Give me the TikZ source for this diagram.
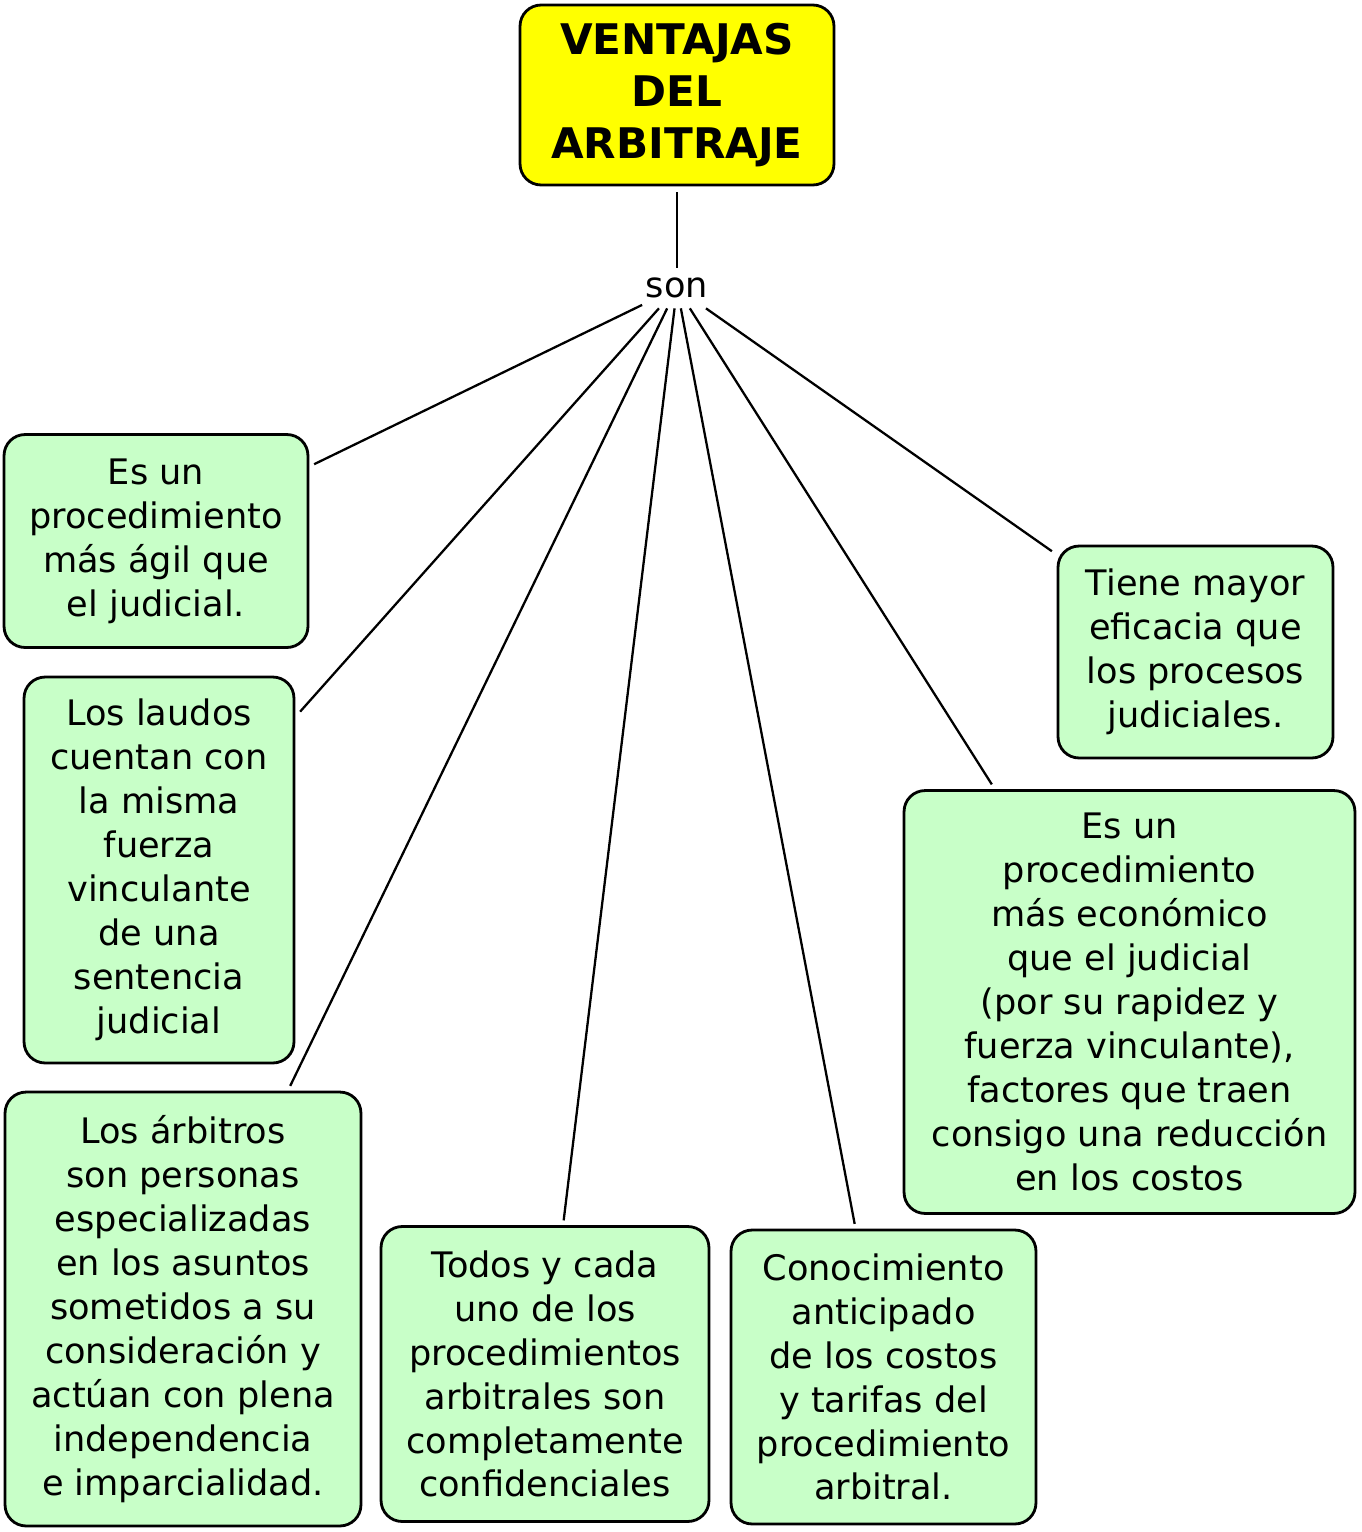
\documentclass[tikz,border=0pt]{standalone}
\usepackage{fontspec}
\setmainfont{DejaVu Sans}
\usepackage{xcolor}
\definecolor{mapgreen}{RGB}{200,255,200}
\definecolor{mapyellow}{RGB}{255,255,0}
\usetikzlibrary{positioning}

\begin{document}
\begin{tikzpicture}[x=0.02cm, y=-0.02cm,
    concept/.style={draw, line width=1.6pt, rounded corners=12pt, fill=mapgreen, align=center,
        font=\fontsize{20}{25}\selectfont, outer sep=3.5pt},
    link/.style={line width=1.3pt}]
    \useasboundingbox (0,0) rectangle (1362,1532);

    % Title
    \node[draw, line width=1.6pt, rounded corners=12pt, fill=mapyellow, align=center,
        font=\bfseries\fontsize{24}{29.5}\selectfont, minimum width=6.28cm, minimum height=3.6cm,
        outer sep=4pt] (title) at (677,95) {VENTAJAS\\DEL\\ARBITRAJE};

    % Linking phrase
    \node[font=\fontsize{20}{25}\selectfont, minimum height=0.8cm, inner sep=2pt] (son) at (677,288) {son};

    % Concepts
    \node[concept, minimum width=6.08cm, minimum height=4.26cm] (agil) at (156,541)
        {Es un\\procedimiento\\más ágil que\\el judicial.};
    \node[concept, minimum width=5.4cm, minimum height=7.72cm] (laudos) at (159,870)
        {Los laudos\\cuentan con\\la misma\\fuerza\\vinculante\\de una\\sentencia\\judicial};
    \node[concept, minimum width=7.12cm, minimum height=8.68cm] (arbitros) at (183,1309)
        {Los árbitros\\son personas\\especializadas\\en los asuntos\\sometidos a su\\consideración y\\actúan con plena\\independencia\\e imparcialidad.};
    \node[concept, minimum width=6.56cm, minimum height=5.9cm] (confid) at (545,1374)
        {Todos y cada\\uno de los\\procedimientos\\arbitrales son\\completamente\\confidenciales};
    \node[concept, minimum width=6.1cm, minimum height=5.88cm] (costos) at (883.5,1377)
        {Conocimiento\\anticipado\\de los costos\\y tarifas del\\procedimiento\\arbitral.};
    \node[concept, minimum width=9.02cm, minimum height=8.46cm] (economico) at (1129.5,1002)
        {Es un\\procedimiento\\más económico\\que el judicial\\(por su rapidez y\\fuerza vinculante),\\factores que traen\\consigo una reducción\\en los costos};
    \node[concept, minimum width=5.5cm, minimum height=4.24cm] (eficacia) at (1195.5,652)
        {Tiene mayor\\eficacia que\\los procesos\\judiciales.};

    \draw[link] (title) -- (son);
    \draw[link] (son) -- (agil);
    \draw[link] (son) -- (laudos);
    \draw[link] (son) -- (arbitros);
    \draw[link] (son) -- (confid);
    \draw[link] (son) -- (costos);
    \draw[link] (son) -- (economico);
    \draw[link] (son) -- (eficacia);
\end{tikzpicture}
\end{document}
